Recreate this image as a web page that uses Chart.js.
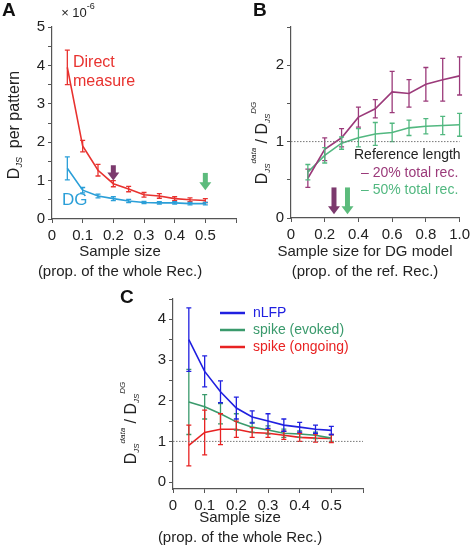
<!DOCTYPE html>
<html><head><meta charset="utf-8">
<script src="https://cdn.jsdelivr.net/npm/chart.js@4"></script>
<style>body{margin:0;background:#fff;width:474px;height:549px;position:relative;overflow:hidden}
.w{position:absolute}</style></head><body>
<div class="w" style="left:0;top:0;width:240px;height:280px"><canvas id="a"></canvas></div>
<div class="w" style="left:237px;top:0;width:237px;height:280px"><canvas id="b"></canvas></div>
<div class="w" style="left:100px;top:280px;width:280px;height:269px"><canvas id="c"></canvas></div>
<script>
const xA = [0.05,0.1,0.15,0.2,0.25,0.3,0.35,0.4,0.45,0.5];
const aDirect = [3.95,1.9,1.27,0.92,0.78,0.63,0.6,0.53,0.5,0.48];
const aDirectErr = [0.45,0.15,0.15,0.08,0.07,0.06,0.06,0.05,0.05,0.05];
const aDG = [1.32,0.75,0.6,0.53,0.47,0.43,0.42,0.42,0.4,0.4];
const aDGErr = [0.3,0.07,0.05,0.05,0.04,0.03,0.03,0.03,0.03,0.03];
const xB = [0.1,0.2,0.3,0.4,0.5,0.6,0.7,0.8,0.9,1.0];
const b20 = [0.52,0.9,1.05,1.32,1.43,1.65,1.63,1.75,1.81,1.86];
const b20Err = [0.12,0.15,0.12,0.13,0.12,0.27,0.18,0.22,0.28,0.25];
const b50 = [0.6,0.82,0.98,1.05,1.1,1.12,1.18,1.2,1.21,1.22];
const b50Err = [0.1,0.1,0.08,0.12,0.15,0.12,0.1,0.1,0.12,0.15];
const xC = [0.05,0.1,0.15,0.2,0.25,0.3,0.35,0.4,0.45,0.5];
const cLFP = [3.5,2.72,2.22,1.82,1.6,1.5,1.4,1.35,1.3,1.27];
const cLFPErr = [0.78,0.38,0.27,0.27,0.15,0.18,0.15,0.12,0.1,0.1];
const cEvoked = [1.97,1.85,1.68,1.48,1.35,1.28,1.2,1.18,1.15,1.08];
const cEvokedErr = [0.8,0.3,0.25,0.2,0.12,0.1,0.1,0.08,0.08,0.08];
const cOngoing = [0.9,1.22,1.3,1.3,1.22,1.2,1.15,1.1,1.08,1.07];
const cOngoingErr = [0.5,0.55,0.38,0.2,0.12,0.1,0.1,0.1,0.1,0.1];

const F = '"Liberation Sans", Arial, sans-serif';
const GR = '#555';
const DECO = {};
function ds(xs, ys, errs, color){
  return {data: xs.map((x,i)=>({x, y: ys[i]})), errs, borderColor: color, backgroundColor: color,
    borderWidth: 1.6, pointRadius: 0, tension: 0, fill: false};
}
function rich(ctx, segs, x, y, rot){
  ctx.save(); ctx.translate(x,y); ctx.rotate(rot||0);
  let w=0; segs.forEach(s=>{ctx.font=s.s+'px '+F; s.w=ctx.measureText(s.t).width; w+=s.w;});
  let cx=-w/2; ctx.textBaseline='middle'; ctx.textAlign='left';
  segs.forEach(s=>{ctx.font=(s.i?'italic ':'')+s.s+'px '+F; ctx.fillStyle=s.c||'#222'; ctx.fillText(s.t,cx,s.dy||0); cx+=s.w;});
  ctx.restore();
}
function arrow(ctx, x, y1, y2, color){
  ctx.save(); ctx.strokeStyle=color; ctx.fillStyle=color; ctx.lineWidth=5;
  ctx.beginPath(); ctx.moveTo(x,y1); ctx.lineTo(x,y2-7); ctx.stroke();
  ctx.beginPath(); ctx.moveTo(x-6,y2-8); ctx.lineTo(x+6,y2-8); ctx.lineTo(x,y2); ctx.closePath(); ctx.fill();
  ctx.restore();
}
const errPlugin = {id:'err', afterDatasetsDraw(chart){
  const ctx=chart.ctx, xs=chart.scales.x, ys=chart.scales.y;
  chart.data.datasets.forEach(d=>{
    if(!d.errs) return;
    ctx.save(); ctx.strokeStyle=d.borderColor; ctx.lineWidth=1.3;
    d.data.forEach((p,i)=>{
      const x=xs.getPixelForValue(p.x), t=ys.getPixelForValue(p.y+d.errs[i]), b=ys.getPixelForValue(p.y-d.errs[i]);
      ctx.beginPath(); ctx.moveTo(x,t); ctx.lineTo(x,b); ctx.moveTo(x-2.5,t); ctx.lineTo(x+2.5,t); ctx.moveTo(x-2.5,b); ctx.lineTo(x+2.5,b); ctx.stroke();
    });
    ctx.restore();
  });
  const draw = DECO[chart.canvas.id];
  if(draw) draw(ctx, chart, (x,y)=>[xs.getPixelForValue(x), ys.getPixelForValue(y)]);
}};
function refLine(ctx, chart, P){
  const y=P(0,1)[1]; ctx.save(); ctx.strokeStyle='#777'; ctx.lineWidth=1; ctx.setLineDash([1.5,1.5]);
  ctx.beginPath(); ctx.moveTo(chart.chartArea.left,y); ctx.lineTo(chart.chartArea.right,y); ctx.stroke(); ctx.restore();
}
function mk(id, datasets, o){
  DECO[id] = o.draw;
  return new Chart(document.getElementById(id), {
    type:'line', data:{datasets}, plugins:[errPlugin],
    options:{responsive:true, maintainAspectRatio:false, animation:false,
      layout:{padding:o.pad},
      plugins:{legend:{display:false}, tooltip:{enabled:false}},
      scales:{
        x:{type:'linear', min:o.xmin, max:o.xmax, afterFit:s=>{s.height=o.xh;},
          afterBuildTicks:s=>{s.ticks=o.xt.map(v=>({value:v}));},
          ticks:{color:'#222', font:{family:F,size:o.fs}, padding:4, maxRotation:0, callback:o.xcb, autoSkip:false},
          grid:{drawOnChartArea:false, drawTicks:true, tickLength:4, color:GR}, border:{color:GR, width:1.2}},
        y:{type:'linear', min:o.ymin, max:o.ymax, afterFit:s=>{s.width=o.yw;},
          afterBuildTicks:s=>{s.ticks=o.yt.map(v=>({value:v}));},
          ticks:{color:'#222', font:{family:F,size:o.fs}, padding:3, autoSkip:false, callback:v=>Number.isInteger(v)?String(v):''},
          grid:{drawOnChartArea:false, drawTicks:true, tickLength:4, color:GR}, border:{color:GR, width:1.2}}
      }}
  });
}
const half = n=>Array.from({length:n},(_,i)=>i*0.5);
function lbl(ctx, s, x, y, c, size, align, bold){ctx.save(); ctx.font=(bold?'bold ':'')+size+'px '+F; ctx.fillStyle=c; ctx.textAlign=align||'left'; ctx.textBaseline='middle'; ctx.fillText(s,x,y); ctx.restore();}

mk('a', [ds(xA,aDirect,aDirectErr,'#e8322f'), ds(xA,aDG,aDGErr,'#2b9fd8')], {
  pad:{left:0, top:27, right:1, bottom:0}, xmin:0, xmax:0.6, ymin:0, ymax:5, xh:61, yw:52, fs:15,
  xt:[0,0.1,0.2,0.3,0.4,0.5,0.6], xcb:v=>v===0.6?'':(v===0?'0':v.toFixed(1)), yt:half(11),
  draw:(ctx,ch,P)=>{
    lbl(ctx,'A',2,11,'#111',19,'left',true);
    rich(ctx,[{t:'× 10',s:13},{t:'-6',s:9,dy:-6}],78,13,0);
    rich(ctx,[{t:'D',s:16},{t:'JS',s:9,dy:4,i:1},{t:'  per pattern',s:16}],15,125,-Math.PI/2);
    lbl(ctx,'Direct',73,63,'#e8322f',16); lbl(ctx,'measure',73,82,'#e8322f',16);
    lbl(ctx,'DG',62,200,'#2b9fd8',17);
    let a=P(0.2,1.4), b=P(0.2,1.0); arrow(ctx,a[0],a[1],b[1],'#7c3a6e');
    a=P(0.5,1.2); b=P(0.5,0.75); arrow(ctx,a[0],a[1],b[1],'#5cbb7c');
    lbl(ctx,'Sample size',120,252,'#222',15,'center');
    lbl(ctx,'(prop. of the whole Rec.)',120,272,'#222',15,'center');
  }});

mk('b', [ds(xB,b20,b20Err,'#9b3a7a'), ds(xB,b50,b50Err,'#52b880')], {
  pad:{left:0, top:27, right:10, bottom:0}, xmin:0, xmax:1.0, ymin:0, ymax:2.5, xh:62, yw:54, fs:15,
  xt:[0,0.2,0.4,0.6,0.8,1.0], xcb:v=>v===0?'0':v.toFixed(1), yt:half(6),
  draw:(ctx,ch,P)=>{
    refLine(ctx,ch,P);
    lbl(ctx,'B',16,11,'#111',19,'left',true);
    rich(ctx,[{t:'D',s:16},{t:'JS',s:8,dy:5,i:1},{t:'data',s:8,dy:-9,i:1},{t:' / D',s:16},{t:'JS',s:8,dy:5,i:1},{t:'DG',s:8,dy:-9,i:1}],26,143,-Math.PI/2);
    lbl(ctx,'Reference length',117,155,'#222',14);
    lbl(ctx,'– 20% total rec.',124,173,'#9b3a7a',14);
    lbl(ctx,'– 50% total rec.',124,190,'#52b880',14);
    let a=P(0.255,0.4), b=P(0.255,0.05); arrow(ctx,a[0],a[1],b[1],'#7c3a6e');
    a=P(0.335,0.4); b=P(0.335,0.05); arrow(ctx,a[0],a[1],b[1],'#5cbb7c');
    lbl(ctx,'Sample size for DG model',128,252,'#222',15,'center');
    lbl(ctx,'(prop. of the ref. Rec.)',128,272,'#222',15,'center');
  }});

mk('c', [ds(xC,cEvoked,cEvokedErr,'#3a9a6c'), ds(xC,cOngoing,cOngoingErr,'#e82222'), ds(xC,cLFP,cLFPErr,'#2020e0')], {
  pad:{left:0, top:19, right:17, bottom:0}, xmin:0, xmax:0.6, ymin:-0.17, ymax:4.5, xh:60, yw:73, fs:15,
  xt:[0,0.1,0.2,0.3,0.4,0.5,0.6], xcb:v=>v===0.6?'':(v===0?'0':v.toFixed(1)), yt:[0,0.5,1,1.5,2,2.5,3,3.5,4,4.5],
  draw:(ctx,ch,P)=>{
    refLine(ctx,ch,P);
    lbl(ctx,'C',20,18,'#111',19,'left',true);
    rich(ctx,[{t:'D',s:16},{t:'JS',s:8,dy:5,i:1},{t:'data',s:8,dy:-9,i:1},{t:' / D',s:16},{t:'JS',s:8,dy:5,i:1},{t:'DG',s:8,dy:-9,i:1}],32,143,-Math.PI/2);
    const L=[['nLFP','#2020e0',33],['spike (evoked)','#3a9a6c',50],['spike (ongoing)','#e82222',67]];
    L.forEach(([t,c,y])=>{ctx.save(); ctx.strokeStyle=c; ctx.lineWidth=2.5; ctx.beginPath(); ctx.moveTo(120,y); ctx.lineTo(145,y); ctx.stroke(); ctx.restore(); lbl(ctx,t,153,y,c,14);});
    lbl(ctx,'Sample size',140,238,'#222',15,'center');
    lbl(ctx,'(prop. of the whole Rec.)',140,258,'#222',15,'center');
  }});
</script></body></html>
